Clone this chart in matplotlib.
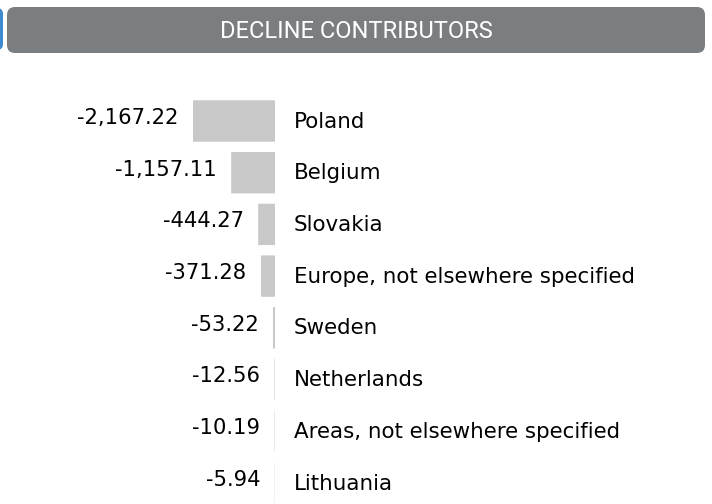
import matplotlib
matplotlib.use("Agg")
import matplotlib.pyplot as plt
from matplotlib.patches import FancyBboxPatch

categories = ["Poland", "Belgium", "Slovakia", "Europe, not elsewhere specified",
              "Sweden", "Netherlands", "Areas, not elsewhere specified", "Lithuania"]
values = [-2167.22, -1157.11, -444.27, -371.28, -53.22, -12.56, -10.19, -5.94]
title = "DECLINE CONTRIBUTORS"

W, H = 712, 504
fig = plt.figure(figsize=(W / 100, H / 100), dpi=100)
fig.patch.set_facecolor("white")

# header bar
ax_bg = fig.add_axes([0, 0, 1, 1])
ax_bg.set_xlim(0, W)
ax_bg.set_ylim(H, 0)
ax_bg.axis("off")
ax_bg.add_patch(FancyBboxPatch((-10, 8), 13, 42, boxstyle="round,pad=0,rounding_size=6",
                               fc="#3d8ad0", ec="none"))
ax_bg.add_patch(FancyBboxPatch((7, 7), 698, 46, boxstyle="round,pad=0,rounding_size=8",
                               fc="#7b7e81", ec="none"))
ax_bg.text(356, 31, title, color="white", fontsize=17, family="Roboto",
           ha="center", va="center")

# bar area: zero at x=275 px, rows 51.7 px apart starting at y=121
px_per_unit = 82 / 2167.22
x0_px = 275
ax = fig.add_axes([0, 0, 1, 1])
ax.set_xlim(-x0_px / px_per_unit, (W - x0_px) / px_per_unit)
row_px = 51.7
top_px = 121
ax.set_ylim((H - top_px) / row_px, -top_px / row_px)
ax.axis("off")
ax.patch.set_alpha(0)

ypos = list(range(len(categories)))
bars = ax.barh(ypos, values, height=0.8, color="#c8c8c8", edgecolor="none")
for b in bars:
    b.set_snap(False)

for y, v, c in zip(ypos, values, categories):
    ax.annotate(f"{v:,.2f}", xy=(v, y), xytext=(-10.5, 2.2),
                textcoords="offset points", ha="right", va="center",
                fontsize=15.2, color="black")
    ax.annotate(c, xy=(0, y), xytext=(13.7, -0.5), textcoords="offset points",
                ha="left", va="center", fontsize=15.4, color="black")

fig.savefig("out.png", dpi=100)
